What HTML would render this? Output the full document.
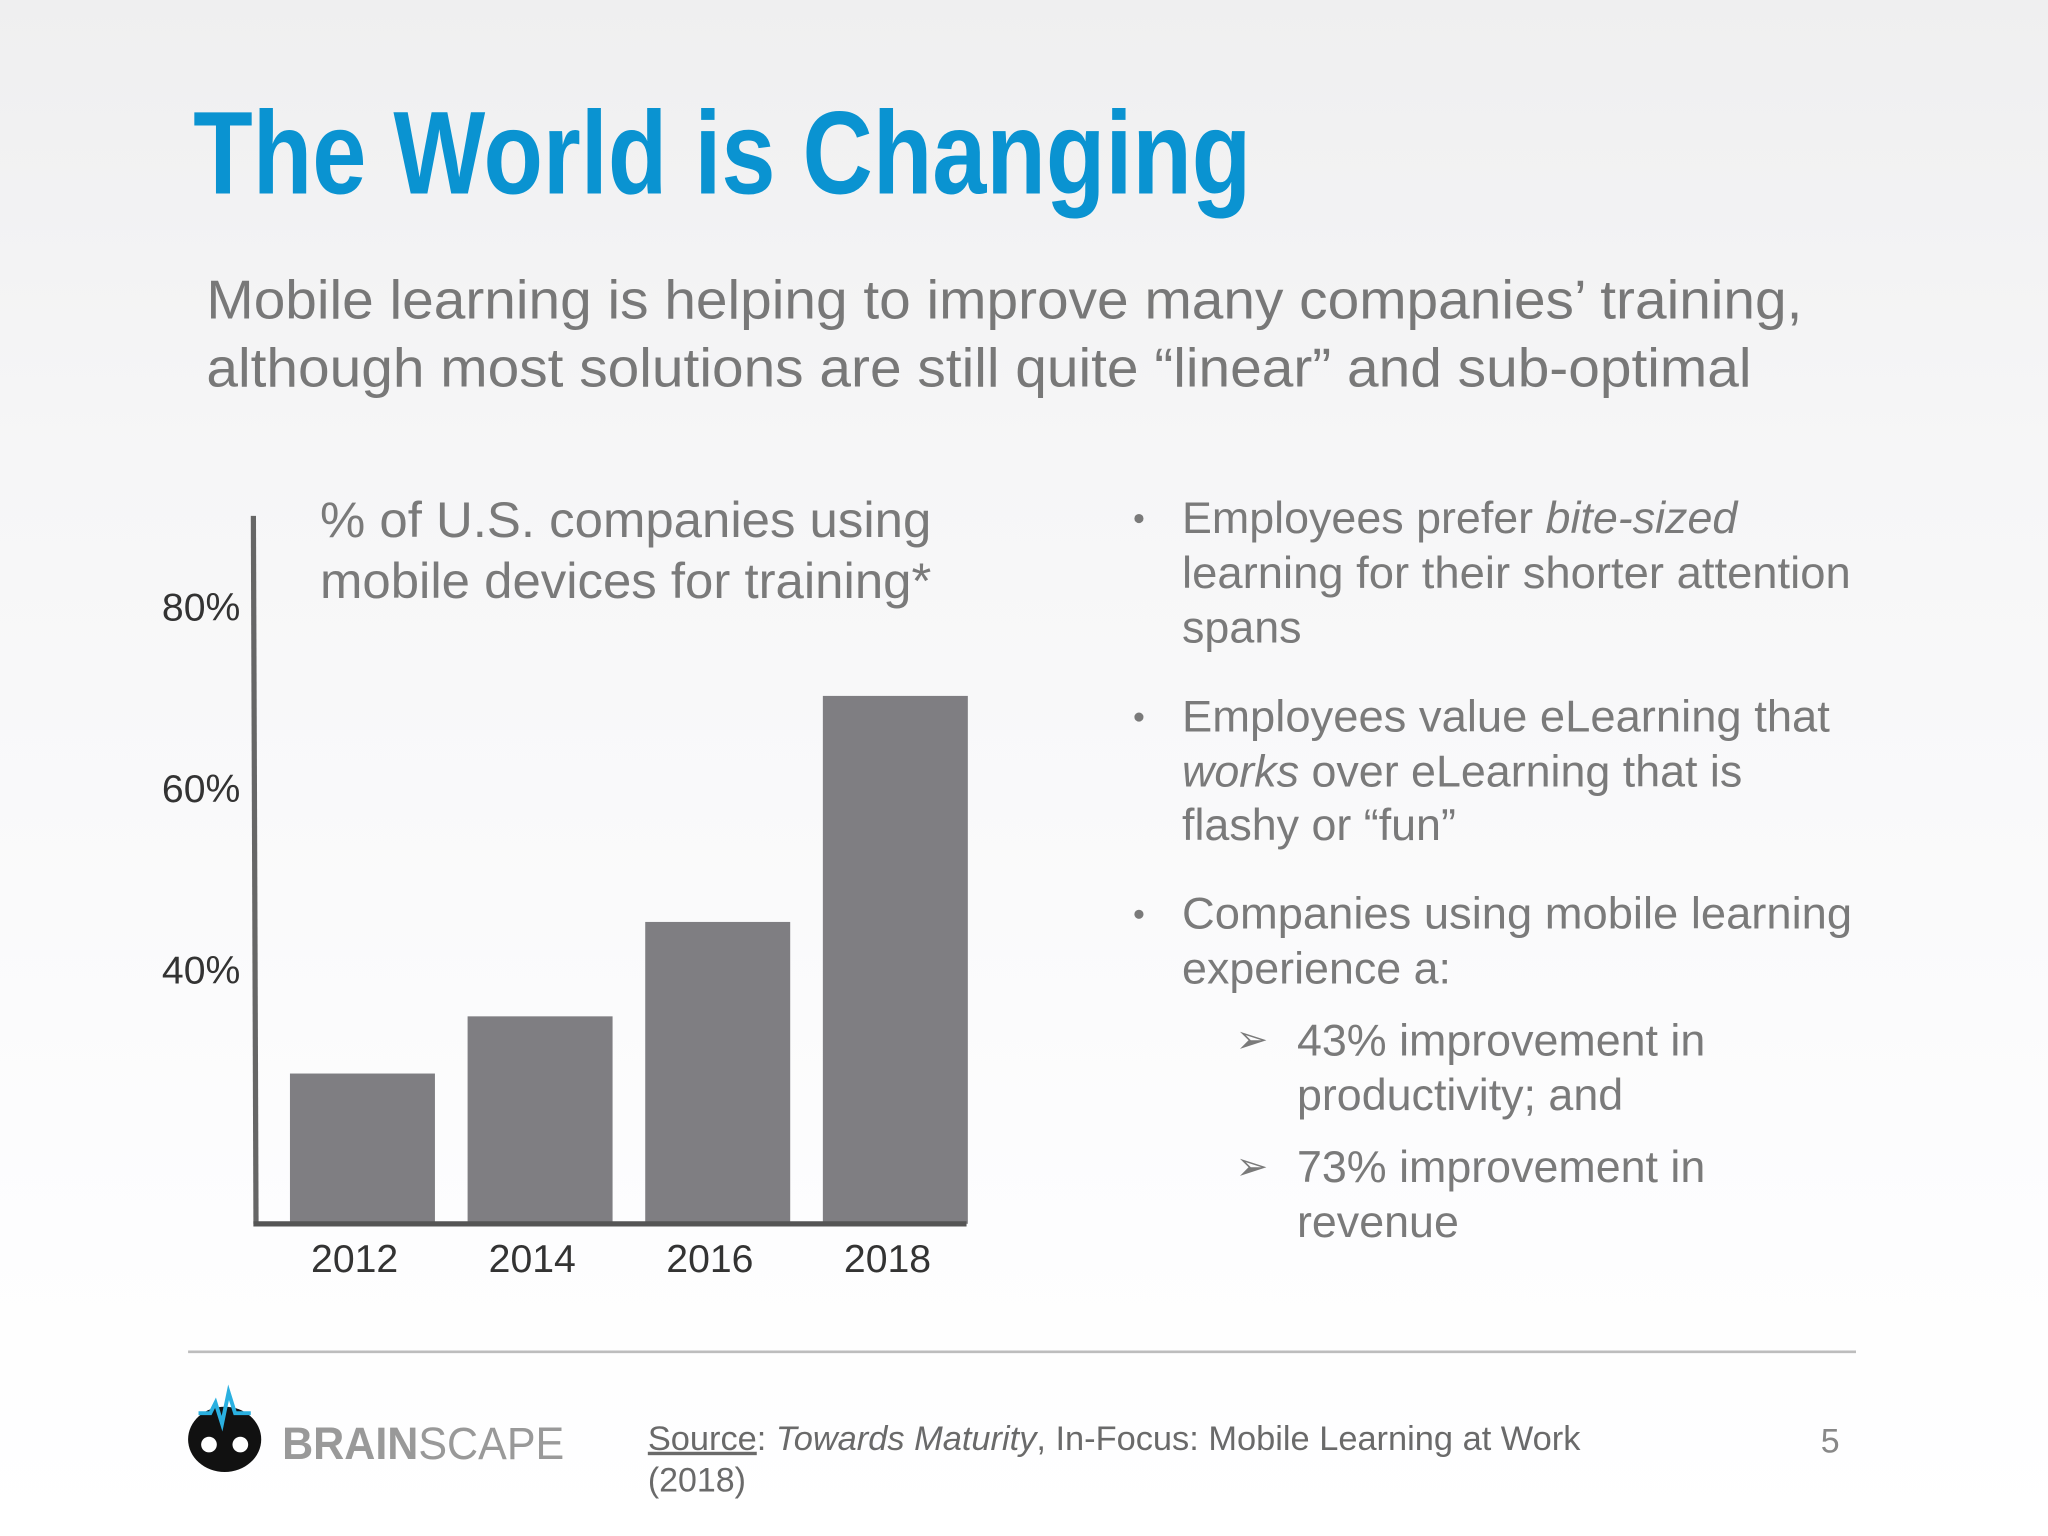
<!DOCTYPE html>
<html><head><meta charset="utf-8"><style>
html,body{margin:0;padding:0;width:2048px;height:1536px;overflow:hidden;background:#fff}
svg{display:block;font-family:"Liberation Sans",sans-serif}
</style></head><body>
<svg width="2048" height="1536" viewBox="0 0 1568 1176">
<defs>
<linearGradient id="bg" x1="0" y1="0" x2="0" y2="1">
<stop offset="0" stop-color="#efeff0"/><stop offset="0.3" stop-color="#f6f6f7"/><stop offset="0.8" stop-color="#fdfdfe"/><stop offset="1" stop-color="#ffffff"/>
</linearGradient>
</defs>
<rect width="1568" height="1176" fill="url(#bg)"/>
<text x="148" y="148" font-size="90" font-weight="bold" fill="#0a93d1" textLength="810" lengthAdjust="spacingAndGlyphs">The World is Changing</text>
<g fill="#787878" font-size="42">
<text x="158" y="244" textLength="1222" lengthAdjust="spacingAndGlyphs">Mobile learning is helping to improve many companies’ training,</text>
<text x="158" y="296" textLength="1183" lengthAdjust="spacingAndGlyphs">although most solutions are still quite “linear” and sub-optimal</text>
</g>
<g fill="#7a7a7a" font-size="38">
<text x="245" y="411" textLength="468" lengthAdjust="spacingAndGlyphs">% of U.S. companies using</text>
<text x="245" y="458" textLength="468" lengthAdjust="spacingAndGlyphs">mobile devices for training*</text>
</g>
<g id="chart"></g>
<g fill="#7a7a7a" font-size="34.3">
<circle cx="872" cy="397" r="3.5"/>
<text x="905" y="408">Employees prefer <tspan font-style="italic">bite-sized</tspan></text>
<text x="905" y="450" textLength="512" lengthAdjust="spacingAndGlyphs">learning for their shorter attention</text>
<text x="905" y="492">spans</text>
<circle cx="872" cy="549" r="3.5"/>
<text x="905" y="560" textLength="496" lengthAdjust="spacingAndGlyphs">Employees value eLearning that</text>
<text x="905" y="602"><tspan font-style="italic">works</tspan> over eLearning that is</text>
<text x="905" y="643">flashy or “fun”</text>
<circle cx="872" cy="700" r="3.5"/>
<text x="905" y="711" textLength="513" lengthAdjust="spacingAndGlyphs">Companies using mobile learning</text>
<text x="905" y="753">experience a:</text>
<text x="946" y="806" font-size="30">➢</text>
<text x="993" y="808">43% improvement in</text>
<text x="993" y="850">productivity; and</text>
<text x="946" y="903" font-size="30">➢</text>
<text x="993" y="905">73% improvement in</text>
<text x="993" y="947">revenue</text>
</g>
<line x1="144" y1="1035" x2="1421" y2="1035" stroke="#bdbdbd" stroke-width="2"/>
<g>
<ellipse cx="172" cy="1102" rx="28" ry="25" fill="#111"/>
<circle cx="160" cy="1106" r="6" fill="#fff"/><circle cx="184" cy="1106" r="6" fill="#fff"/>
<polyline points="152,1082 161,1082 165,1074 170,1090 175,1066 180,1082 192,1082" fill="none" stroke="#2ab0e0" stroke-width="3"/>
<text x="216" y="1117" font-size="35" fill="#999" textLength="216" lengthAdjust="spacingAndGlyphs"><tspan font-weight="bold">BRAIN</tspan>SCAPE</text>
</g>
<g fill="#6a6a6a" font-size="26">
<text x="496" y="1110" textLength="714" lengthAdjust="spacingAndGlyphs"><tspan text-decoration="underline">Source</tspan>: <tspan font-style="italic">Towards Maturity</tspan>,  In-Focus: Mobile Learning at Work</text>
<text x="496" y="1142">(2018)</text>
</g>
<text x="1394" y="1112" font-size="26" fill="#888">5</text>
</svg>
<script>
const categories = ["2012","2014","2016","2018"];
const values = [28.5, 34.8, 45.2, 70.1];
const tickValues = [40, 60, 80];
const tickLabels = ["40%","60%","80%"];
const NS = "http://www.w3.org/2000/svg";
const g = document.getElementById("chart");
const baseY = 937, ref40 = 742, pxPer = 6.95;
function yScale(v){ return Math.min(baseY, ref40 - (v - 40) * pxPer); }
const x0 = 222, step = 136, bw = 111;
function xScale(i){ return x0 + i * step; }
function mk(tag, attrs){ const e = document.createElementNS(NS, tag); for (const k in attrs) e.setAttribute(k, attrs[k]); g.appendChild(e); return e; }
values.forEach((v, i) => {
  const y = yScale(v);
  const r = mk("rect", {x: xScale(i), y: y, width: bw, height: baseY - y, fill: "#7f7e82"});
  
  
  const t = mk("text", {x: xScale(i) + bw / 2 - 6, y: 974, "font-size": 30, fill: "#333", "text-anchor": "middle"});
  t.textContent = categories[i];
  
  
});
tickValues.forEach((v, i) => {
  const t = mk("text", {x: 184, y: yScale(v) + 11, "font-size": 30, fill: "#333", "text-anchor": "end"});
  t.textContent = tickLabels[i];
  
  
});
const ya = mk("line", {x1: 194, y1: 395, x2: 196, y2: baseY, stroke: "#666", "stroke-width": 4});


const xa = mk("line", {x1: 194, y1: baseY, x2: 740, y2: baseY, stroke: "#555", "stroke-width": 4});


</script>
</body></html>
